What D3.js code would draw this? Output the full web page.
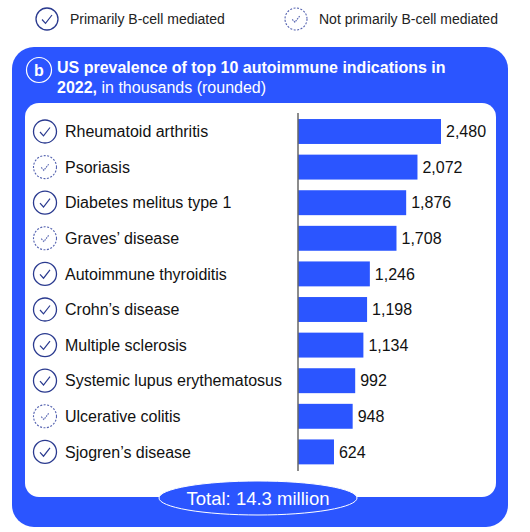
<!DOCTYPE html>
<html>
<head>
<meta charset="utf-8">
<script src="https://cdn.jsdelivr.net/npm/d3@7"></script>
<style>
  body { margin: 0; background: #fff; }
  svg { display: block; font-family: "Liberation Sans", Arial, sans-serif; }
</style>
</head>
<body>
<div id="chart"></div>
<script>
// data, thousands
const categories = [
  "Rheumatoid arthritis", "Psoriasis", "Diabetes melitus type 1", "Graves\u2019 disease",
  "Autoimmune thyroiditis", "Crohn\u2019s disease", "Multiple sclerosis",
  "Systemic lupus erythematosus", "Ulcerative colitis", "Sjogren\u2019s disease"
]
const values = [2480, 2072, 1876, 1708, 1246, 1198, 1134, 992, 948, 624]
const bCellMediated = [true, false, true, false, true, true, true, true, false, true]
const legendLabels = ["Primarily B-cell mediated", "Not primarily B-cell mediated"]
const totalLabel = "Total: 14.3 million"

const blue = "#2b55ff"
const navy = "#2a3a8f"
const dashNavy = "#5563b0"

const width = 530, height = 532

const svg = d3.select("#chart").append("svg")
  .attr("width", width)
  .attr("height", height)

// check icon, solid or dashed
function icon(g, solid, r) {
  g.append("circle")
    .attr("r", r)
    .attr("fill", "none")
    .attr("stroke", solid ? navy : dashNavy)
    .attr("stroke-width", solid ? 1.3 : 1.1)
    .attr("stroke-dasharray", solid ? null : "2,1.5")
  const k = solid ? 1 : 0.75
  g.append("path")
    .attr("d", `M${-5 * k},${0.5 * k} L${-1.5 * k},${4.3 * k} L${5 * k},${-4 * k}`)
    .attr("fill", "none")
    .attr("stroke", solid ? navy : dashNavy)
    .attr("stroke-width", solid ? 1.2 : 1.1)
    .attr("stroke-dasharray", solid ? null : "1.6,0.9")
}

// legend
const legendX = [47, 296]
legendLabels.forEach((t, i) => {
  const g = svg.append("g").attr("transform", `translate(${legendX[i]},19)`)
  icon(g, i === 0, 11)
  svg.append("text")
    .attr("x", legendX[i] + 23)
    .attr("y", 19)
    .attr("dy", "0.35em")
    .style("font-size", "14px")
    .style("fill", "#222")
    .text(t)
})

// panels
svg.append("rect")
  .attr("x", 12).attr("y", 47)
  .attr("width", 496).attr("height", 480)
  .attr("rx", 22)
  .attr("fill", blue)

svg.append("rect")
  .attr("x", 25).attr("y", 103)
  .attr("width", 471).attr("height", 394)
  .attr("rx", 14)
  .attr("fill", "#fff")

// header
svg.append("circle")
  .attr("cx", 39).attr("cy", 70).attr("r", 12.5)
  .attr("fill", "none")
  .attr("stroke", "#fff")
  .attr("stroke-width", 1.2)
svg.append("text")
  .attr("x", 39).attr("y", 70)
  .attr("dy", "0.36em")
  .attr("text-anchor", "middle")
  .style("font-size", "16px")
  .style("font-weight", "bold")
  .style("fill", "#fff")
  .text("b")

svg.append("text")
  .attr("x", 57).attr("y", 73)
  .style("font-size", "16px")
  .style("font-weight", "bold")
  .style("fill", "#fff")
  .text("US prevalence of top 10 autoimmune indications in")

const t2 = svg.append("text")
  .attr("x", 57).attr("y", 93)
  .style("font-size", "16px")
  .style("fill", "#fff")
t2.append("tspan").style("font-weight", "bold").text("2022,")
t2.append("tspan").text(" in thousands (rounded)")

// scales
const xScale = d3.scaleLinear()
  .domain([0, d3.max(values)])
  .range([298, 441])

const yScale = d3.scaleBand()
  .domain(categories)
  .range([113.7, 469.7])
  .paddingInner(0.3)
  .paddingOuter(0.15)

const rows = categories.map((c, i) => ({ c, v: values[i], solid: bCellMediated[i] }))

svg.selectAll(".bar")
  .data(rows)
  .enter()
  .append("rect")
  .attr("class", "bar")
  .attr("x", xScale(0))
  .attr("y", d => yScale(d.c))
  .attr("width", d => xScale(d.v) - xScale(0))
  .attr("height", yScale.bandwidth())
  .attr("fill", blue)

svg.append("g")
  .attr("transform", `translate(${xScale(0)},0)`)
  .call(d3.axisLeft(yScale).tickSize(0).tickFormat(""))
  .call(g => g.select(".domain")
    .attr("d", "M0,113V471")
    .attr("stroke", "#666")
    .attr("stroke-width", 1.5))

svg.selectAll(".val")
  .data(rows)
  .enter()
  .append("text")
  .attr("class", "val")
  .attr("x", d => xScale(d.v) + 5)
  .attr("y", d => yScale(d.c) + yScale.bandwidth() / 2)
  .attr("dy", "0.36em")
  .style("font-size", "16px")
  .style("fill", "#111")
  .text(d => d3.format(",")(d.v))

const rowG = svg.selectAll(".row")
  .data(rows)
  .enter()
  .append("g")
  .attr("class", "row")
  .attr("transform", d => `translate(45,${yScale(d.c) + yScale.bandwidth() / 2})`)

rowG.each(function(d) { icon(d3.select(this), d.solid, 11.5) })

rowG.append("text")
  .attr("x", 20)
  .attr("dy", "0.36em")
  .style("font-size", "16px")
  .style("fill", "#111")
  .text(d => d.c)

// total pill
svg.append("ellipse")
  .attr("cx", 258).attr("cy", 498)
  .attr("rx", 99).attr("ry", 17)
  .attr("fill", blue)
  .attr("stroke", "#fff")
  .attr("stroke-width", 1)
svg.append("text")
  .attr("x", 258).attr("y", 498)
  .attr("dy", "0.36em")
  .attr("text-anchor", "middle")
  .style("font-size", "18.5px")
  .style("fill", "#fff")
  .text(totalLabel)
</script>
</body>
</html>
